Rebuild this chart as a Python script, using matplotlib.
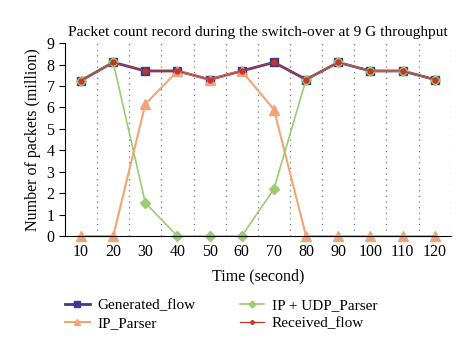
import matplotlib.pyplot as plt

plt.rcParams['font.family'] = ['Liberation Serif', 'DejaVu Serif']

time_s = [10, 20, 30, 40, 50, 60, 70, 80, 90, 100, 110, 120]
generated_flow = [7.25, 8.1, 7.7, 7.7, 7.3, 7.7, 8.1, 7.3, 8.1, 7.7, 7.7, 7.3]
ip_parser = [0, 0, 6.15, 7.7, 7.3, 7.7, 5.9, 0, 0, 0, 0, 0]
ip_udp_parser = [7.25, 8.1, 1.55, 0, 0, 0, 2.2, 7.3, 8.1, 7.7, 7.7, 7.3]
received_flow = [7.25, 8.1, 7.7, 7.7, 7.3, 7.7, 8.1, 7.3, 8.1, 7.7, 7.7, 7.3]

fig = plt.figure(figsize=(4.74, 3.53), dpi=100)
ax = fig.add_axes([0.137, 0.331, 0.814, 0.547])

ax.plot(time_s, generated_flow, color='#3b3b8a', lw=2, marker='s', ms=6, label='Generated_flow', clip_on=False)
ax.plot(time_s, ip_parser, color='#f4a374', lw=1.5, marker='^', ms=7, label='IP_Parser', clip_on=False)
ax.plot(time_s, ip_udp_parser, color='#9ccb72', lw=1.2, marker='D', ms=5, label='IP + UDP_Parser', clip_on=False)
ax.plot(time_s, received_flow, color='#c8342c', lw=0.9, marker='o', ms=3.5, label='Received_flow', clip_on=False)

# dotted separators between the samples
for x in range(15, 130, 10):
    ax.axvline(x, color='#777777', ls=(0, (1, 3.5)), lw=0.9, zorder=0)

ax.set_xlim(5, 125)
ax.set_ylim(0, 9)
ax.set_xticks(time_s)
ax.set_yticks(range(10))
ax.tick_params(axis='x', length=0, labelsize=11.5, pad=6)
ax.tick_params(axis='y', length=4, labelsize=11.5, direction='out')
ax.spines['top'].set_visible(False)
ax.spines['right'].set_visible(False)

ax.set_title('Packet count record during the switch-over at 9 G throughput', fontsize=11.1, pad=5)
ax.set_xlabel('Time (second)', fontsize=11.5, labelpad=6)
ax.set_ylabel('Number of packets (million)', fontsize=11.5, labelpad=4)

ax.legend(loc='upper left', bbox_to_anchor=(-0.035, -0.25), ncol=2, frameon=False,
          fontsize=11, handlelength=1.6, handletextpad=0.5, markerscale=0.7,
          columnspacing=2.9, labelspacing=0.3)

fig.savefig('out.png', dpi=100)
